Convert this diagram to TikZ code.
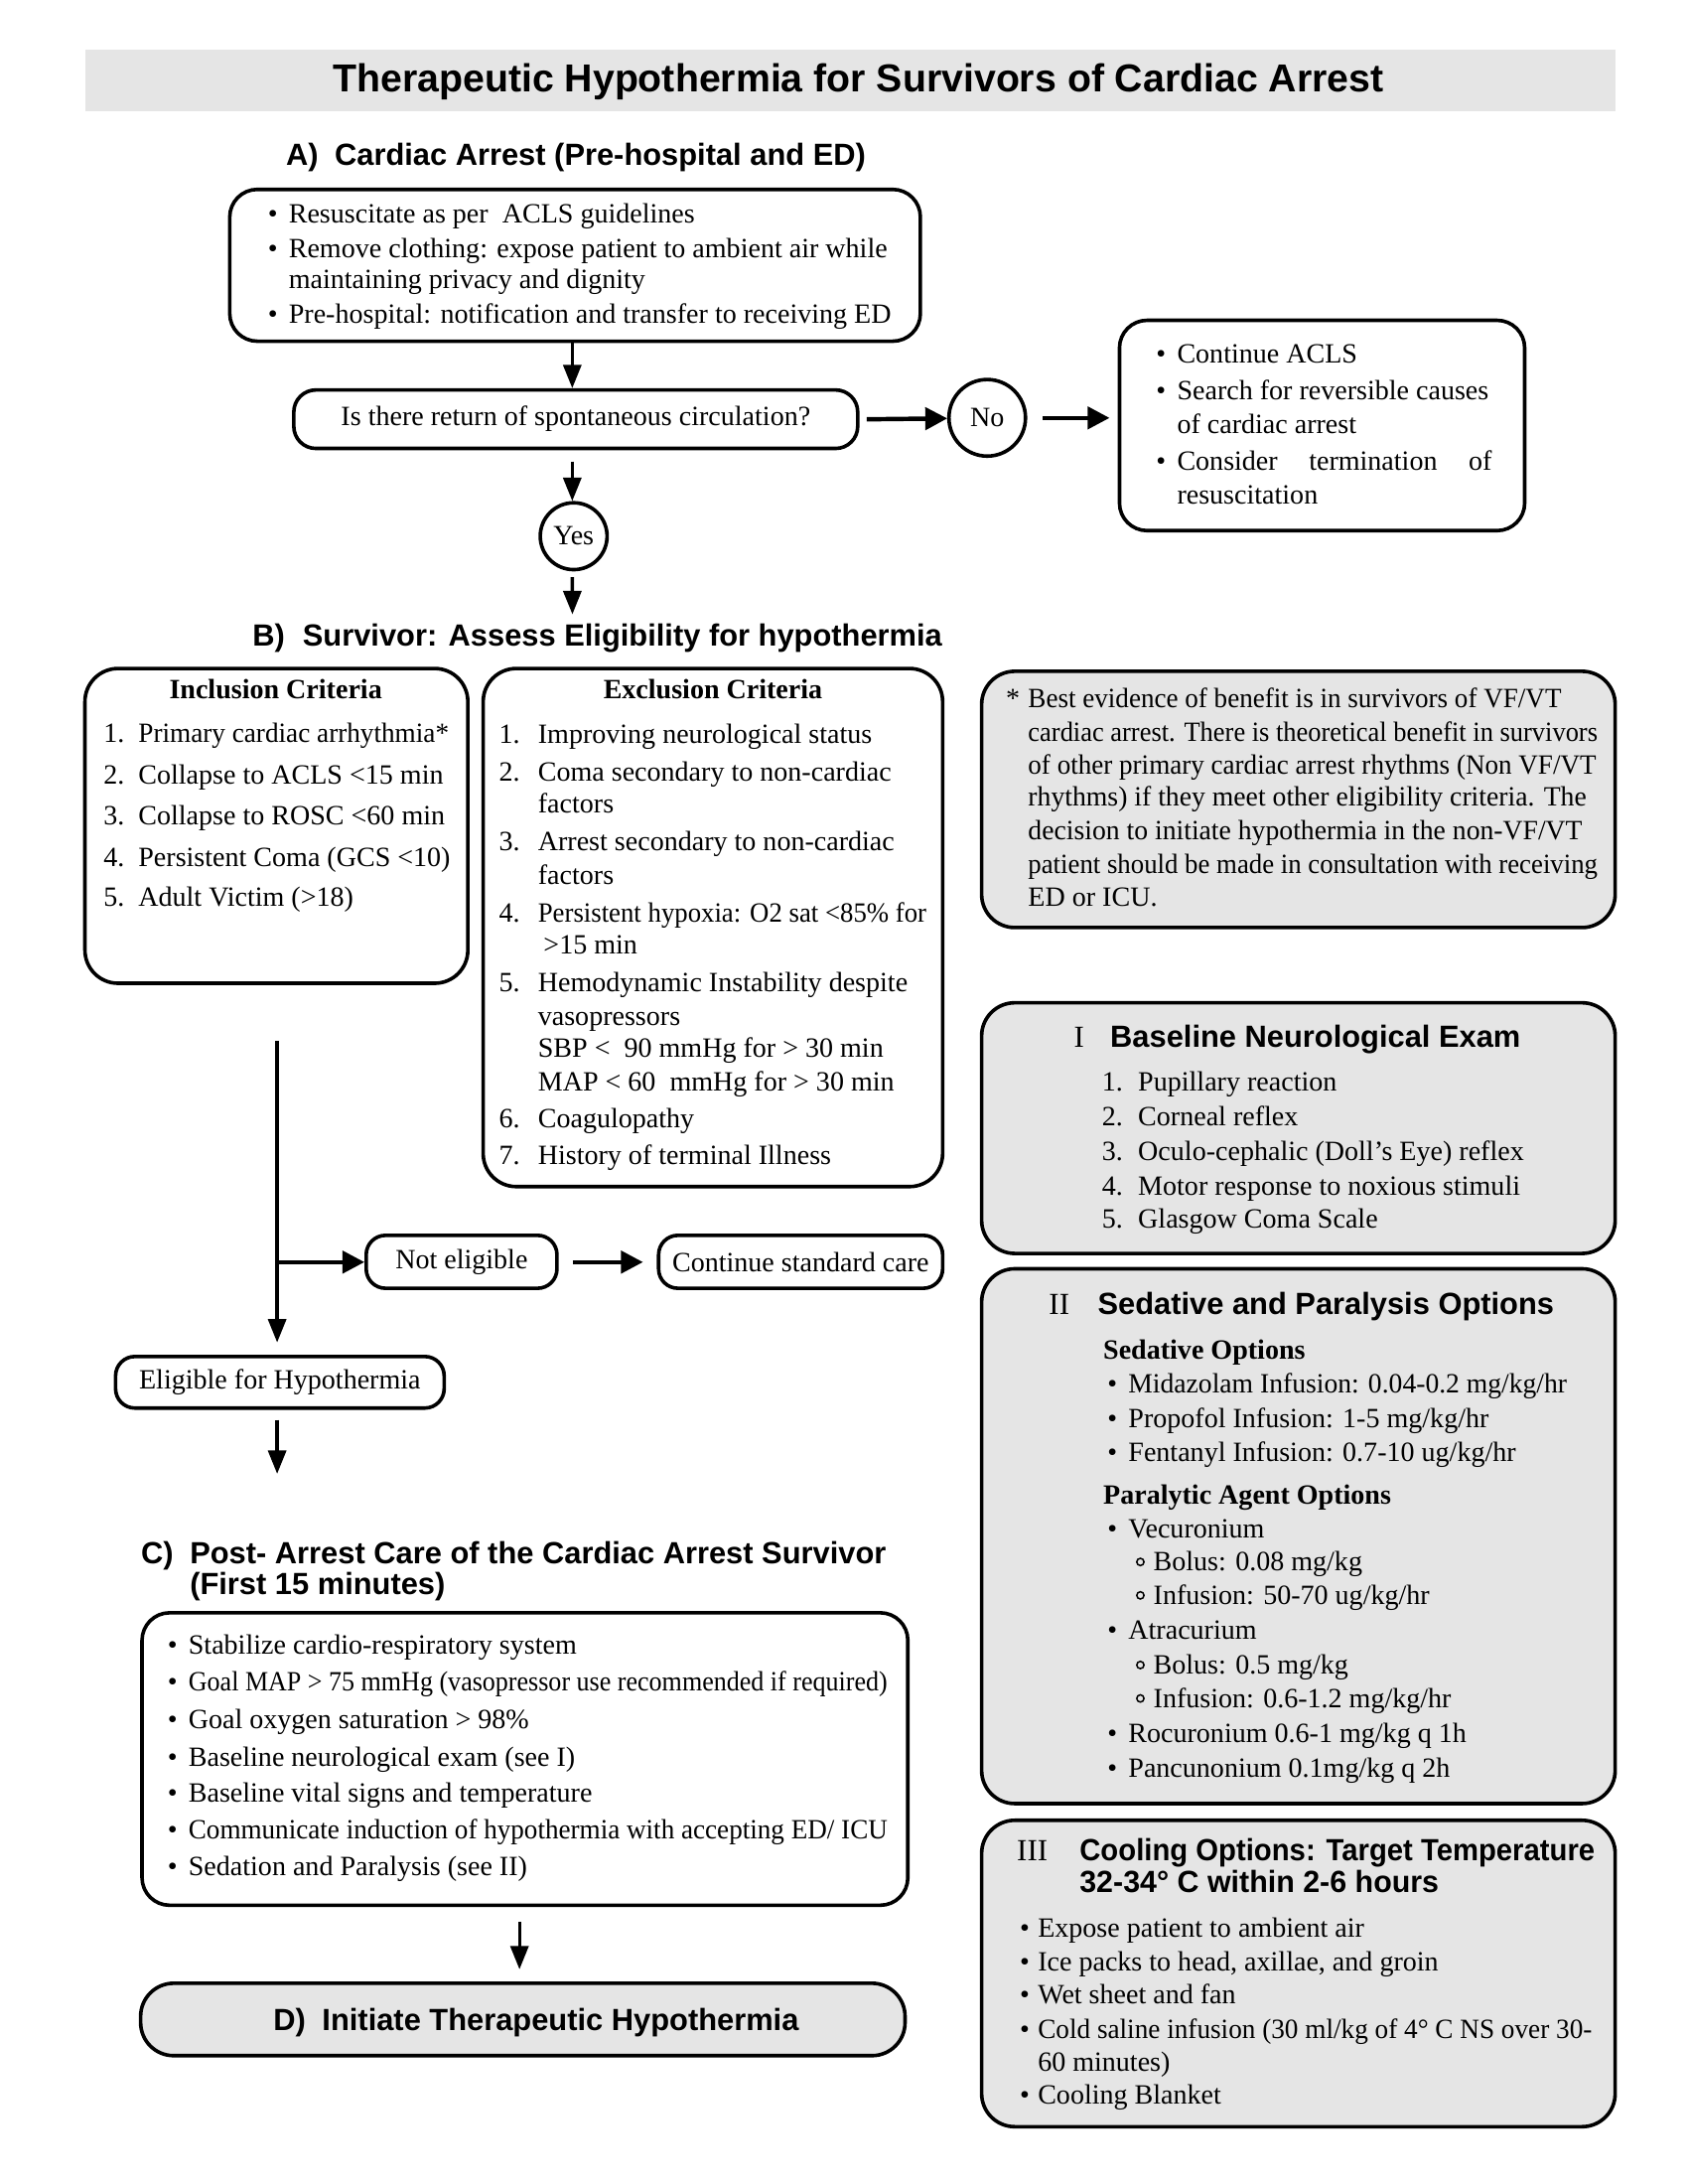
\documentclass[tikz,border=0pt]{standalone}
\usepackage{fontspec}
\usepackage{graphicx}
\setmainfont{Liberation Serif}
\setsansfont{Liberation Sans}
\usetikzlibrary{arrows.meta}
\definecolor{boxgray}{RGB}{229,229,229}
\newsavebox\fitbox
\newcommand\fitto[2]{\sbox\fitbox{#2}\edef\fitw{\the\wd\fitbox}\pgfmathsetmacro\fitr{#1/\fitw}\scalebox{\fitr}[1]{\usebox\fitbox}}
\newcommand\litem[6]{\node[tx] (#1l) at (#2,#4) {#5}; \node[tx] (#1) at (#3,#4) {#6};}
\newcommand\sitem[4]{\node[subb] (#1l) at (819,#2-6.5) {}; \node[tx] (#1) at (828,#2) {#4};}
\newcommand\tln[4]{\node[tx] (#1) at (#2,#3) {#4};}
\newcommand\bul{•}
\tikzset{
 box/.style={draw, line width=1.3pt, rounded corners=10pt, inner sep=0pt, font=\fontsize{10}{12}\selectfont},
 gbox/.style={box, fill=boxgray, rounded corners=12pt},
 sbox/.style={box, rounded corners=7pt},
 circ/.style={draw, circle, line width=1.3pt, inner sep=0pt, font=\fontsize{10}{12}\selectfont},
 subb/.style={draw, circle, line width=0.55pt, inner sep=0pt, minimum size=2.6pt},
 tx/.style={anchor=base west, inner sep=0pt, font=\fontsize{10}{12}\selectfont},
 hd/.style={anchor=base west, inner sep=0pt, font=\sffamily\bfseries\fontsize{11}{13}\selectfont},
 bt/.style={tx, font=\bfseries\fontsize{10}{12}\selectfont},
 rn/.style={tx, font=\fontsize{11}{13}\selectfont},
 varr/.style={line width=1.2pt, -{Triangle[length=8.5pt,width=6.5pt]}},
 harr/.style={line width=1.6pt, -{Triangle[length=8pt,width=8pt]}},
}
\begin{document}
\begin{tikzpicture}[x=0.5pt,y=-0.5pt,scale=1.010101,every node/.append style={transform shape}]
\useasboundingbox (0,0) rectangle (1211.76,1568.16);
\path[fill=white] (0,0) rectangle (1211.76,1568.16);

% title
\node[fill=boxgray, minimum width=549.5pt, minimum height=22pt, inner sep=0pt] (band) at (610.5,58) {};
\node[anchor=base, inner sep=0pt, font=\sffamily\bfseries\fontsize{14}{16}\selectfont] (title) at (616.5,66) {Therapeutic Hypothermia for Survivors of Cardiac Arrest};

% A
\node[hd] (hA1) at (205,119) {A)};
\node[hd] (hA2) at (240,119) {Cardiac Arrest (Pre-hospital and ED)};
\node[box, minimum width=248pt, minimum height=54.5pt] (boxA) at (413,190.5) {};
\litem{a1}{192}{207}{160}{\bul}{Resuscitate as per\ \ ACLS guidelines}
\litem{a2}{192}{207}{185}{\bul}{Remove clothing: expose patient to ambient air while}
\tln{a2b}{207}{207}{maintaining privacy and dignity}
\litem{a3}{192}{207}{232}{\bul}{Pre-hospital: notification and transfer to receiving ED}

\node[sbox, rounded corners=8pt, minimum width=202.5pt, minimum height=21pt] (rosc) at (413.5,301) {Is there return of spontaneous circulation?};
\node[circ, minimum size=27.5pt] (no) at (709,300) {No};
\node[box, minimum width=145.5pt, minimum height=75.5pt] (cont) at (949.5,305.5) {};
\litem{c1}{830}{845}{261}{\bul}{Continue ACLS}
\litem{c2}{830}{845}{287}{\bul}{Search for reversible causes}
\tln{c2b}{845}{311}{of cardiac arrest}
\litem{c3}{830}{845}{338}{\bul}{\makebox[113pt][s]{Consider termination of}}
\tln{c3b}{845}{362}{resuscitation}
\node[circ, minimum size=24pt] (yes) at (412,385) {Yes};

\draw[varr] (boxA.south -| 411,0) -- (rosc.north -| 411,0);
\draw[harr] ([xshift=2.5pt]rosc.east) -- (no);
\draw[harr] ([xshift=5.5pt]no.east) -- ([xshift=-3pt]cont.west |- no.east);
\draw[varr] ([yshift=-4pt]rosc.south -| 411,0) -- (yes.north -| 411,0);
\coordinate (bhead) at (411,441);
\draw[varr] ([yshift=-2pt]yes.south -| 411,0) -- (bhead);

% B
\node[hd] (hB1) at (181,464) {B)};
\node[hd] (hB2) at (217,464) {Survivor: Assess Eligibility for hypothermia};

\node[box, rounded corners=12pt, minimum width=137.5pt, minimum height=113pt] (incl) at (198.5,593) {};
\node[bt, anchor=base] (inct) at (198,502) {Inclusion Criteria};
\litem{i1}{74}{99}{533}{1.}{\fitto{111.5pt}{Primary cardiac arrhythmia*}}
\litem{i2}{74}{99}{563}{2.}{Collapse to ACLS <15 min}
\litem{i3}{74}{99}{592}{3.}{Collapse to ROSC <60 min}
\litem{i4}{74}{99}{622}{4.}{Persistent Coma (GCS <10)}
\litem{i5}{74}{99}{651}{5.}{Adult Victim (>18)}

\node[box, rounded corners=12pt, minimum width=165pt, minimum height=186pt] (excl) at (512,666) {};
\node[bt, anchor=base] (exct) at (512,502) {Exclusion Criteria};
\litem{e1}{358}{386}{534}{1.}{Improving neurological status}
\litem{e2}{358}{386}{561}{2.}{Coma secondary to non-cardiac}
\tln{e2b}{386}{584}{factors}
\litem{e3}{358}{386}{611}{3.}{Arrest secondary to non-cardiac}
\tln{e3b}{386}{635}{factors}
\litem{e4}{358}{386}{662}{4.}{\fitto{139.5pt}{Persistent hypoxia: O2 sat <85\% for}}
\tln{e4b}{390}{685}{>15 min}
\litem{e5}{358}{386}{712}{5.}{Hemodynamic Instability despite}
\tln{e5b}{386}{736}{vasopressors}
\tln{e5c}{386}{759}{SBP <\ \ 90 mmHg for > 30 min}
\tln{e5d}{386}{783}{MAP < 60\ \ mmHg for > 30 min}
\litem{e6}{358}{386}{810}{6.}{Coagulopathy}
\litem{e7}{358}{386}{836}{7.}{History of terminal Illness}

\node[gbox, minimum width=227.5pt, minimum height=92pt] (foot) at (932.5,574) {};
\tln{fs}{722}{508}{*}
\tln{f1}{738}{508}{\fitto{191.5pt}{Best evidence of benefit is in survivors of VF/VT}}
\tln{f2}{738}{532}{\fitto{204.5pt}{cardiac arrest. There is theoretical benefit in survivors}}
\tln{f3}{738}{556}{\fitto{204pt}{of other primary cardiac arrest rhythms (Non VF/VT}}
\tln{f4}{738}{579}{\fitto{200.5pt}{rhythms) if they meet other eligibility criteria. The}}
\tln{f5}{738}{603}{\fitto{199pt}{decision to initiate hypothermia in the non-VF/VT}}
\tln{f6}{738}{627}{\fitto{204.5pt}{patient should be made in consultation with receiving}}
\tln{f7}{738}{651}{ED or ICU.}

% eligibility flow
\node[sbox, minimum width=68.5pt, minimum height=19pt] (notel) at (331.5,906) {Not eligible};
\node[sbox, minimum width=102pt, minimum height=19pt] (csc) at (575,906) {Continue standard care};
\node[sbox, minimum width=118pt, minimum height=18.5pt] (elig) at (201,992.5) {Eligible for Hypothermia};
\coordinate (vtop) at (199,747);
\coordinate (vbr) at (199,906);
\coordinate (eend) at (199,1058);
\draw[varr] (vtop) -- ([yshift=4.5pt]elig.north -| vtop);
\draw[harr] (vbr) -- (notel.west);
\draw[harr] ([xshift=5pt]notel.east) -- ([xshift=-5pt]csc.west);
\draw[varr] ([yshift=-3.5pt]elig.south -| eend) -- (eend);

% C
\node[hd] (hC1) at (101,1123) {C)};
\node[hd] (hC2) at (136,1123) {Post- Arrest Care of the Cardiac Arrest Survivor};
\node[hd] (hC3) at (136,1145) {(First 15 minutes)};
\node[box, minimum width=275pt, minimum height=105pt] (boxc) at (377,1263) {};
\litem{p1}{120}{135}{1188}{\bul}{Stabilize cardio-respiratory system}
\litem{p2}{120}{135}{1214}{\bul}{\fitto{251pt}{Goal MAP > 75 mmHg (vasopressor use recommended if required)}}
\litem{p3}{120}{135}{1241}{\bul}{Goal oxygen saturation > 98\%}
\litem{p4}{120}{135}{1268}{\bul}{Baseline neurological exam (see I)}
\litem{p5}{120}{135}{1294}{\bul}{Baseline vital signs and temperature}
\litem{p6}{120}{135}{1320}{\bul}{\fitto{251pt}{Communicate induction of hypothermia with accepting ED/ ICU}}
\litem{p7}{120}{135}{1347}{\bul}{Sedation and Paralysis (see II)}

\node[gbox, minimum width=274.5pt, minimum height=26pt] (boxd) at (375.5,1450) {};
\node[hd] (dlab) at (196,1458) {D)};
\node[hd] (dtxt) at (231,1458) {Initiate Therapeutic Hypothermia};
\draw[varr] ([xshift=-2pt,yshift=-5pt]boxc.south) -- ([xshift=-2pt,yshift=4.5pt]boxc.south |- boxd.north);

% I
\node[gbox, minimum width=227.5pt, minimum height=90pt] (neuro) at (932.5,810) {};
\node[rn] (n0) at (771,752) {I};
\node[hd] (nh) at (797,752) {Baseline Neurological Exam};
\litem{n1}{791}{817}{783}{1.}{Pupillary reaction}
\litem{n2}{791}{817}{808}{2.}{Corneal reflex}
\litem{n3}{791}{817}{833}{3.}{Oculo-cephalic (Doll’s Eye) reflex}
\litem{n4}{791}{817}{858}{4.}{Motor response to noxious stimuli}
\litem{n5}{791}{817}{882}{5.}{Glasgow Coma Scale}

% II
\node[gbox, minimum width=227.5pt, minimum height=192pt] (sed) at (932.5,1103) {};
\node[rn] (s0) at (753,944) {II};
\node[hd] (sh) at (788,944) {Sedative and Paralysis Options};
\node[bt] (sso) at (792,976) {Sedative Options};
\litem{s1}{795}{810}{1000}{\bul}{\fitto{157.5pt}{Midazolam Infusion: 0.04-0.2 mg/kg/hr}}
\litem{s2}{795}{810}{1025}{\bul}{Propofol Infusion: 1-5 mg/kg/hr}
\litem{s3}{795}{810}{1049}{\bul}{Fentanyl Infusion: 0.7-10 ug/kg/hr}
\node[bt] (spa) at (792,1080) {Paralytic Agent Options};
\litem{s4}{795}{810}{1104}{\bul}{Vecuronium}
\sitem{s5}{1128}{}{Bolus: 0.08 mg/kg}
\sitem{s6}{1152}{}{Infusion: 50-70 ug/kg/hr}
\litem{s7}{795}{810}{1177}{\bul}{Atracurium}
\sitem{s8}{1202}{}{Bolus: 0.5 mg/kg}
\sitem{s9}{1226}{}{Infusion: 0.6-1.2 mg/kg/hr}
\litem{s10}{795}{810}{1251}{\bul}{Rocuronium 0.6-1 mg/kg q 1h}
\litem{s11}{795}{810}{1276}{\bul}{Pancunonium 0.1mg/kg q 2h}

% III
\node[gbox, minimum width=227.5pt, minimum height=110pt] (cool) at (932.5,1417) {};
\node[rn] (k0) at (730,1336) {III};
\node[hd] (kh1) at (775,1336) {\fitto{185pt}{Cooling Options: Target Temperature}};
\node[hd] (kh2) at (775,1359) {\fitto{129pt}{32-34° C within 2-6 hours}};
\litem{k1}{732}{745}{1391}{\bul}{Expose patient to ambient air}
\litem{k2}{732}{745}{1415}{\bul}{Ice packs to head, axillae, and groin}
\litem{k3}{732}{745}{1439}{\bul}{Wet sheet and fan}
\litem{k4}{732}{745}{1464}{\bul}{\fitto{199pt}{Cold saline infusion (30 ml/kg of 4° C NS over 30-}}
\tln{k4b}{745}{1487}{60 minutes)}
\litem{k5}{732}{745}{1511}{\bul}{Cooling Blanket}
\end{tikzpicture}
\end{document}
